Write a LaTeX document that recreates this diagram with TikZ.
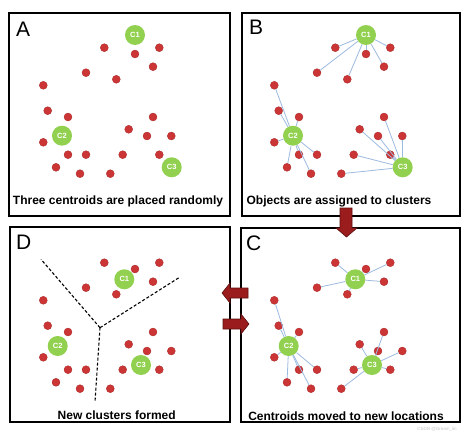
\documentclass[tikz,border=0pt]{standalone}
\usepackage{fontspec}
\setmainfont{Liberation Sans}
\definecolor{dotred}{HTML}{CC3535}
\definecolor{dotedge}{HTML}{A82525}
\definecolor{cgreen}{HTML}{92D050}
\definecolor{linkblue}{HTML}{9DBAE0}
\definecolor{arrred}{HTML}{9B1C1C}
\definecolor{arredge}{HTML}{5C1010}
\tikzset{
  dot/.style={circle,fill=dotred,draw=dotedge,line width=0.3pt,inner sep=0pt,minimum size=8pt},
  centroid/.style={circle,fill=cgreen,inner sep=0pt,minimum size=20pt,text=white,font=\fontsize{7.5}{8}\selectfont\bfseries},
  panel/.style={draw=black,line width=1.6pt},
  link/.style={draw=linkblue,line width=0.8pt},
  caption/.style={font=\fontsize{12}{14}\selectfont\bfseries,inner sep=0pt},
  letter/.style={font=\fontsize{21}{24}\selectfont,inner sep=0pt,anchor=west},
  boundary/.style={draw=black,line width=1.1pt,dash pattern=on 3pt off 2pt},
  bigarrow/.style={fill=arrred,draw=arredge,line width=0.6pt,line join=miter},
  watermark/.style={font=\fontsize{4.5}{5}\selectfont,text=gray!45,inner sep=0pt}
}
\newcommand\dotlist{104.3/47.7/1,135/54/2,159.3/47.7/3,153/66.7/4,86/72.7/5,116.3/79.3/6,43.3/85.3/7,47.7/110.7/8,68/117/9,153/117/10,128.7/129.3/11,147/136/12,171.3/136/13,43.3/142.3/14,68/154.7/15,86/154.7/16,122.7/154.7/17,159.3/154.7/18,56/167.3/19,80/173.7/20,110.3/173.7/21}
\begin{document}
\begin{tikzpicture}[x=1pt,y=-1pt]
\useasboundingbox (0,0) rectangle (474,439);
\fill[white] (0,0) rectangle (474,439);

% panel frames
\draw[panel] (9,13) rectangle (230,216);
\draw[panel] (242,13) rectangle (460,216);
\draw[panel] (10,227) rectangle (230,422);
\draw[panel] (241,228) rectangle (460,422);

% ---------- Panel A ----------
\begin{scope}
  \foreach \x/\y/\i in \dotlist {\node[dot] (a\i) at (\x,\y) {};}
  \node[centroid] (aC1) at (135,35) {C1};
  \node[centroid] (aC2) at (62,135.7) {C2};
  \node[centroid] (aC3) at (171.7,167.3) {C3};
\end{scope}
\node[letter] (aL) at (16,29.5) {A};
\node[caption] (aT) at (118,201.7) {Three centroids are placed randomly};

% ---------- Panel B ----------
\begin{scope}[shift={(231,0)}]
  \foreach \x/\y/\i in \dotlist {\node[dot] (b\i) at (\x,\y) {};}
  \node[centroid] (bC1) at (135,35) {C1};
  \node[centroid] (bC2) at (62,135.7) {C2};
  \node[centroid] (bC3) at (171.7,167.3) {C3};
  \foreach \i in {1,...,6} {\draw[link] (bC1) -- (b\i);}
  \foreach \i in {7,8,9,14,15,16,19,20} {\draw[link] (bC2) -- (b\i);}
  \foreach \i in {10,11,12,13,17,18,21} {\draw[link] (bC3) -- (b\i);}
\end{scope}
\node[letter] (bL) at (249,27.5) {B};
\node[caption] (bT) at (339,201) {Objects are assigned to clusters};

% ---------- Panel C ----------
\begin{scope}[shift={(231,215)}]
  \foreach \x/\y/\i in \dotlist {\node[dot] (c\i) at (\x,\y) {};}
  \node[centroid] (cC1) at (124.3,64.3) {C1};
  \node[centroid] (cC2) at (57.7,131) {C2};
  \node[centroid] (cC3) at (141,150) {C3};
  \foreach \i in {1,...,6} {\draw[link] (cC1) -- (c\i);}
  \foreach \i in {7,8,9,14,15,16,19,20} {\draw[link] (cC2) -- (c\i);}
  \foreach \i in {10,11,12,13,17,18,21} {\draw[link] (cC3) -- (c\i);}
\end{scope}
\node[letter] (cL) at (246,243.5) {C};
\node[caption] (cT) at (346,416.7) {Centroids moved to new locations};

% ---------- Panel D ----------
\begin{scope}[shift={(0,215)}]
  \foreach \x/\y/\i in \dotlist {\node[dot] (d\i) at (\x,\y) {};}
  \node[centroid] (dC1) at (124.3,64.3) {C1};
  \node[centroid] (dC2) at (57.7,131) {C2};
  \node[centroid] (dC3) at (141,150) {C3};
\end{scope}
\coordinate (dctr) at (100,327.7);
\coordinate (dend1) at (41,259.3);
\coordinate (dend2) at (180,277);
\coordinate (dend3) at (95,401.7);
\draw[boundary] (dctr) -- (dend1);
\draw[boundary] (dctr) -- (dend2);
\draw[boundary] (dctr) -- (dend3);
\node[letter] (dL) at (16,242.5) {D};
\node[caption] (dT) at (116.7,415.7) {New clusters formed};

% ---------- arrows between panels ----------
\draw[bigarrow] (340,208) -- (352,208) -- (352,228) -- (357,228) -- (346.5,237) -- (336,228) -- (340,228) -- cycle;
\draw[bigarrow] (248,288) -- (230,288) -- (230,283) -- (222,293) -- (230,303) -- (230,298) -- (248,298) -- cycle;
\draw[bigarrow] (223,319) -- (241,319) -- (241,314) -- (249,324) -- (241,334) -- (241,329) -- (223,329) -- cycle;

\node[watermark] (wm) at (437,429) {CSDN @Dream\_lin};
\end{tikzpicture}
\end{document}
